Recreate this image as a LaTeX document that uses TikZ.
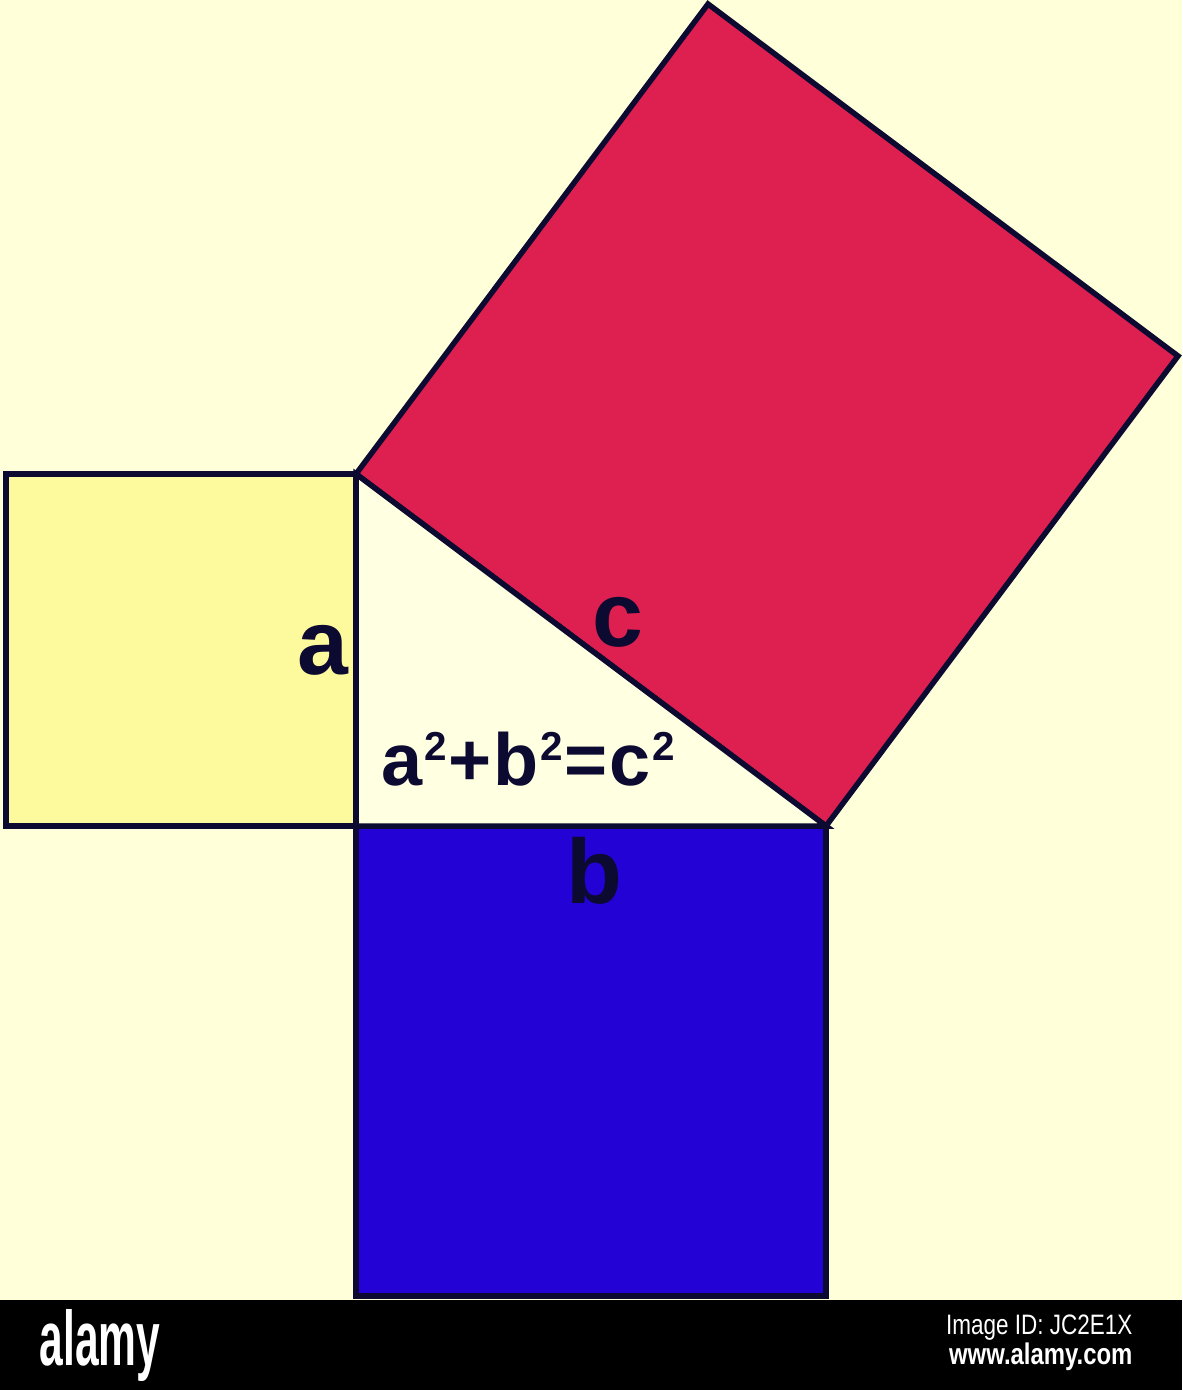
\documentclass[tikz,border=0pt]{standalone}
\usepackage{fontspec}
\setmainfont{Liberation Sans}
\definecolor{paper}{RGB}{255,255,218}
\definecolor{legA}{RGB}{253,250,158}
\definecolor{legB}{RGB}{34,2,212}
\definecolor{hyp}{RGB}{222,32,80}
\definecolor{tri}{RGB}{255,255,226}
\definecolor{ink}{RGB}{12,10,48}
\newcommand{\sqpow}{\raisebox{7pt}{\fontsize{11.5}{11.5}\selectfont 2}}
\tikzset{
  sq/.style={draw=ink, line width=0.55mm, line join=miter},
  lbl/.style={text=ink, font=\fontsize{26}{26}\selectfont\bfseries, inner sep=0pt},
  eqn/.style={text=ink, font=\fontsize{21}{21}\selectfont\bfseries, inner sep=0pt, anchor=base west},
  bar/.style={text=white, inner sep=0pt}
}
\begin{document}
\begin{tikzpicture}[x=0.1mm, y=-0.1mm]
  % page and footer bar
  \fill [paper] (0,0) rectangle (1182,1390);
  \useasboundingbox (0,0) rectangle (1182,1390);
  % triangle corners
  \coordinate (A) at (356,474);
  \coordinate (C) at (356,826);
  \coordinate (B) at (826,826);
  \coordinate (P) at (1178,356);
  \coordinate (Q) at (708,4);
  % squares on the sides
  \filldraw [sq, fill=legA] (6,474) rectangle (C);
  \filldraw [sq, fill=legB] (C) rectangle (826,1296);
  \filldraw [sq, fill=hyp] (A) -- (B) -- (P) -- (Q) -- cycle;
  \filldraw [sq, fill=tri] (A) -- (C) -- (B) -- cycle;
  % labels
  \node [lbl] (la) at (323,650) {a};
  \node [lbl] (lc) at (618,622) {c};
  \node [lbl] (lb) at (594,871) {b};
  \node [eqn] (pyth) at (381,785) {a\kern0.5pt\sqpow\kern0.5pt+\kern0.5pt b\kern0.5pt\sqpow\kern0.5pt=\kern0.5pt c\kern0.5pt\sqpow};
  % footer
  \fill [black] (0,1300) rectangle (1182,1390);
  \node [bar, font=\fontsize{22}{22}\selectfont\bfseries, xscale=0.55] (logo) at (100,1345) {alamy};
  \node [bar, anchor=east, font=\fontsize{8}{8}\selectfont, xscale=0.8] (imgid) at (1133,1328) {Image ID: JC2E1X};
  \node [bar, anchor=east, font=\fontsize{8.5}{8.5}\selectfont\bfseries, xscale=0.8] (site) at (1133,1357) {www.alamy.com};
\end{tikzpicture}
\end{document}
